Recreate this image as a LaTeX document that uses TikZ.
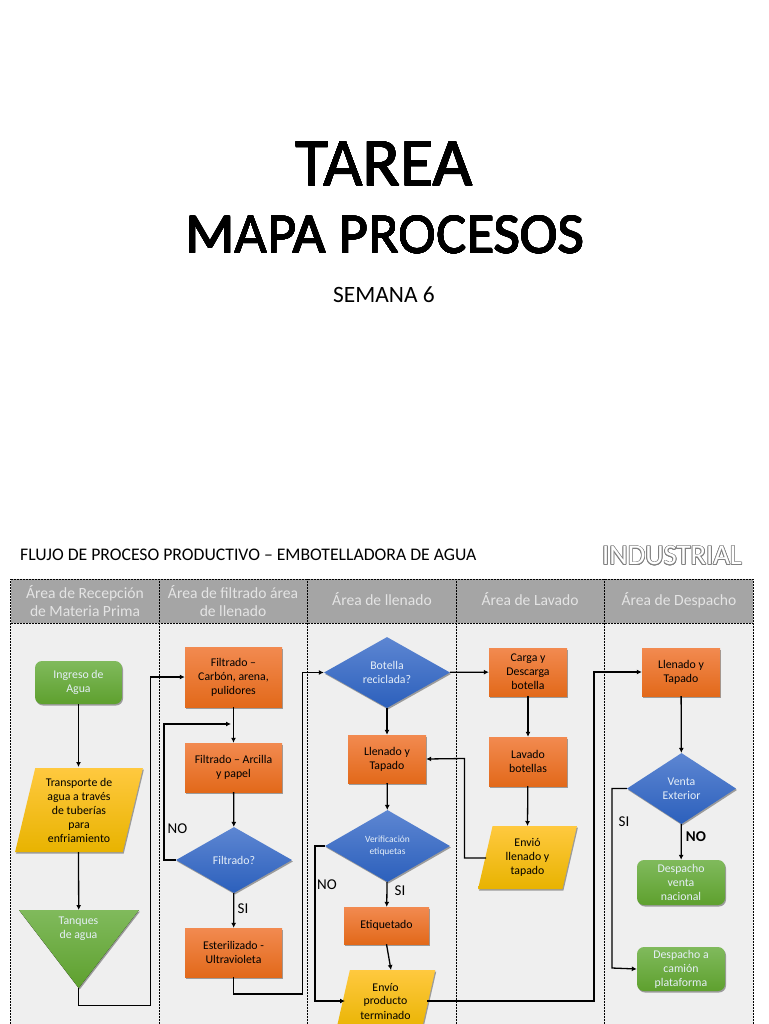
\documentclass[tikz,border=0pt]{standalone}
\usepackage{fontspec}
\setmainfont{Carlito}
\usepackage{contour}
\usetikzlibrary{arrows.meta,shapes.geometric,shadows}
\definecolor{panelbg}{HTML}{EFEFEF}
\definecolor{headbg}{HTML}{A5A5A5}
\definecolor{headtxt}{HTML}{E4E4E4}
\definecolor{orA}{HTML}{F28A50}\definecolor{orB}{HTML}{F87A22}\definecolor{orC}{HTML}{E2691A}
\definecolor{yeA}{HTML}{FFC93F}\definecolor{yeB}{HTML}{FFC40A}\definecolor{yeC}{HTML}{E8B300}
\definecolor{blA}{HTML}{5D86D2}\definecolor{blB}{HTML}{3F70C8}\definecolor{blC}{HTML}{2C60BC}
\definecolor{grA}{HTML}{80BA5C}\definecolor{grB}{HTML}{70AE44}\definecolor{grC}{HTML}{5EA02E}
\definecolor{nodetxt}{HTML}{E6EFF8}
\tikzset{
  x=1pt,y=-1pt,
  soft/.style={drop shadow={shadow xshift=1pt,shadow yshift=-1.5pt,opacity=.35,fill=black}},
  labeltext/.style={align=center,font=\fontsize{11.8}{14}\selectfont,inner sep=0pt},
  orangebox/.style={soft,labeltext,rectangle,top color=orA,middle color=orB,bottom color=orC,text=black,minimum width=#1},
  greenbox/.style={soft,labeltext,rectangle,rounded corners=7pt,top color=grA,middle color=grB,bottom color=grC,text=nodetxt,minimum width=#1},
  bluediamond/.style={soft,labeltext,diamond,top color=blA,middle color=blB,bottom color=blC,text=nodetxt,aspect=1.6},
  yellowpar/.style={soft,labeltext,trapezium,trapezium stretches=true,top color=yeA,middle color=yeB,bottom color=yeC,text=black},
  flow/.style={draw=black,line width=1.3pt,-{Latex[length=5pt,width=5pt]}},
  lane/.style={draw=black,line width=.5pt,densely dotted},
  yesno/.style={font=\fontsize{15}{15}\selectfont,inner sep=0pt,text=black},
  headlabel/.style={align=center,text=headtxt,font=\fontsize{15.6}{18}\selectfont,inner sep=0pt},
  headsingle/.style={headlabel,text height=11pt,text depth=3.5pt},
  bigtitle/.style={inner sep=0pt,text=black},
}
\begin{document}
\begin{tikzpicture}
\useasboundingbox (0,0) rectangle (768,1024);
\clip (0,0) rectangle (768,1024);
\fill[white] (0,0) rectangle (768,1024);
% titles
\contourlength{0.25pt}
\node[bigtitle,font=\fontsize{68.5}{68}\selectfont] (t1) at (384,164) {\contour{black}{TAREA}};
\node[bigtitle,font=\fontsize{57}{57}\selectfont] (t2) at (385,235) {\contour{black}{MAPA PROCESOS}};
\node[bigtitle,font=\fontsize{23.4}{24}\selectfont] (t3) at (384,294.5) {SEMANA 6};
\node[bigtitle,anchor=west,font=\fontsize{17.7}{18}\selectfont] (t4) at (20,554.5) {FLUJO DE PROCESO PRODUCTIVO – EMBOTELLADORA DE AGUA};
\contourlength{0.7pt}
\node[bigtitle,font=\fontsize{28.6}{30}\selectfont] (t5) at (672,556) {\contour{black!50}{\textcolor{white}{INDUSTRIAL}}};
% panel
\fill[panelbg] (10.5,623) rectangle (753,1024);
\fill[headbg] (10.5,579) rectangle (753,623);
\foreach \xx in {10.5,159.5,307.5,456.5,604,753}{\draw[lane] (\xx,579) -- (\xx,1024);}
\draw[lane] (10.5,579) -- (753,579);
\draw[lane] (10.5,623) -- (753,623);
\node[headlabel] (h1) at (85,601) {Área de Recepción\\de Materia Prima};
\node[headlabel] (h2) at (233,601) {Área de filtrado área\\de llenado};
\node[headsingle] (h3) at (382,602) {Área de llenado};
\node[headsingle] (h4) at (530,602) {Área de Lavado};
\node[headsingle] (h5) at (679,602) {Área de Despacho};
% column 1
\node[greenbox=87,minimum height=43] (ingreso) at (78.5,682.5) {Ingreso de\\Agua};
\node[yellowpar,minimum width=128,minimum height=84,trapezium left angle=76.6,trapezium right angle=103.4] (transporte) at (79,810) {Transporte de\\agua a través\\de tuberías\\para\\enfriamiento};
\coordinate (tankL) at (19,910);
\coordinate (tankR) at (139,910);
\coordinate (tankTip) at (78.7,988);
\fill[soft,top color=grA,middle color=grB,bottom color=grC] (tankL) -- (tankR) -- (tankTip) -- cycle;
\node[labeltext,text=nodetxt] (tanques) at (78.5,928.5) {Tanques\\de agua};
% column 2
\node[orangebox=97,minimum height=60] (filtroA) at (233.5,677) {Filtrado –\\Carbón, arena,\\pulidores};
\node[orangebox=97,minimum height=49] (filtroB) at (233.5,767.5) {Filtrado – Arcilla\\y papel};
\node[bluediamond,minimum width=116,minimum height=66] (filtrado) at (234,860) {Filtrado?};
\node[orangebox=97,minimum height=49] (ester) at (233.5,952.5) {Esterilizado -\\Ultravioleta};
% column 3
\node[bluediamond,minimum width=126,minimum height=71] (botella) at (387,672.5) {Botella\\reciclada?};
\node[orangebox=78,minimum height=48] (llenadoA) at (387,759) {Llenado y\\Tapado};
\node[bluediamond,minimum width=125,minimum height=72,font=\fontsize{9.5}{12}\selectfont] (verif) at (387.5,846) {Verificación\\etiquetas};
\node[orangebox=85,minimum height=37] (etiq) at (386.5,925.5) {Etiquetado};
\node[yellowpar,minimum width=100,minimum height=62,trapezium left angle=74.6,trapezium right angle=105.4] (envioP) at (385.5,1001) {Envío\\producto\\terminado};
% column 4
\node[orangebox=78,minimum height=48] (carga) at (528,672) {Carga y\\Descarga\\botella};
\node[orangebox=78,minimum height=49] (lavado) at (528,761.5) {Lavado\\botellas};
\node[yellowpar,minimum width=99,minimum height=63,trapezium left angle=76.6,trapezium right angle=103.4] (envioL) at (527.5,857.5) {Envió\\llenado y\\tapado};
% column 5
\node[orangebox=78,minimum height=48] (llenadoB) at (681,672) {Llenado y\\Tapado};
\node[bluediamond,minimum width=109,minimum height=71] (venta) at (681.5,788.5) {Venta\\Exterior};
\node[greenbox=88,minimum height=45] (nacional) at (681,882.5) {Despacho\\venta\\nacional};
\node[greenbox=88,minimum height=44] (camion) at (681,969) {Despacho a\\camión\\plataforma};
% connectors
\draw[flow] (ingreso) -- (78.5,767);
\draw[flow] (78.5,852) -- (tankL -| tankTip);
\draw[flow] (tankTip) |- (150.5,1005.5) -- (150.5,677) -- (filtroA.west);
\draw[flow] (filtroA) -- (filtroB);
\draw[flow] (filtroB) -- (filtrado);
\coordinate (loopEnd) at (231,724);
\draw[flow] (filtrado.west) -- (164,860) -- (164,724) -- (loopEnd);
\draw[flow] (filtrado) -- (ester);
\draw[flow] (ester.south) -- (233.5,994) -- (302.5,994) -- (302.5,672.5) -- (botella.west);
\draw[flow] (botella) -- (carga);
\draw[flow] (botella) -- (llenadoA);
\draw[flow] (llenadoA) -- (verif);
\draw[flow] (verif) -- (etiq);
\draw[flow] (etiq.south) -- (391,970);
\draw[flow] (verif.west) -- (315,846) -- (315,1001) -- (345,1001);
\draw[flow] (carga) -- (lavado);
\draw[flow] (lavado) -- (527.5,826);
\draw[flow] (486,858) -- (464.5,858) -- (464.5,758.5) -- (llenadoA.east);
\draw[flow] (427,1001) -- (594,1001) -- (594,672) -- (llenadoB.west);
\draw[flow] (llenadoB) -- (venta);
\draw[flow] (venta) -- (nacional);
\draw[flow] (venta.west) -- (612,788.5) -- (612,968) -- (camion.west);
% labels
\node[yesno] (no1) at (177.5,829) {NO};
\node[yesno] (si1) at (243,909) {SI};
\node[yesno] (no2) at (327,885) {NO};
\node[yesno] (si2) at (400,891) {SI};
\node[yesno] (si3) at (624,822) {SI};
\node[yesno,font=\fontsize{15}{15}\selectfont\bfseries] (no3) at (696,837) {NO};
\end{tikzpicture}
\end{document}
